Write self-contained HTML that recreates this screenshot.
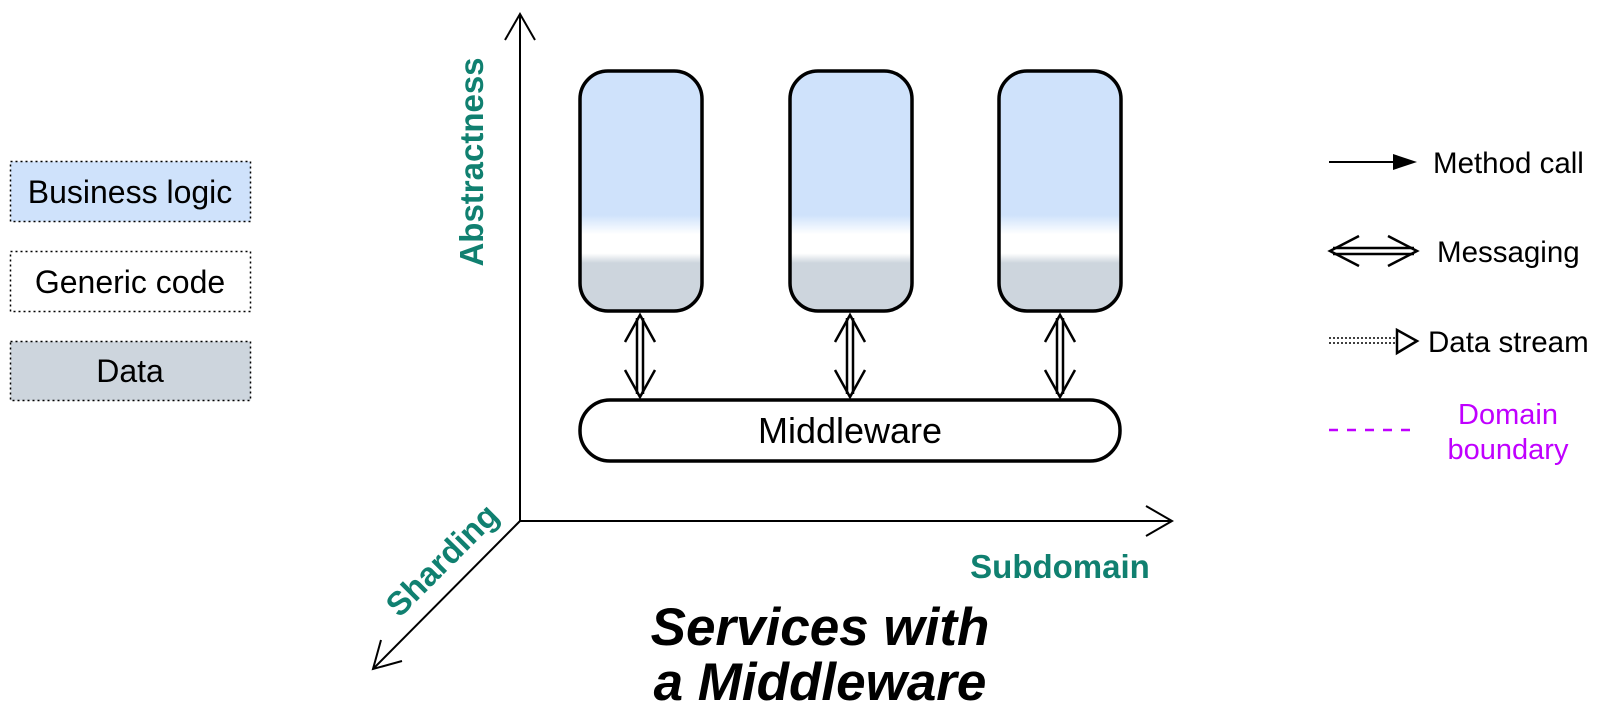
<!DOCTYPE html>
<html><head><meta charset="utf-8"><style>
html,body{margin:0;padding:0;background:#fff;}
svg{display:block;}
text{font-family:"Liberation Sans",Arial,sans-serif;}
</style></head><body>
<svg width="1600" height="713" viewBox="0 0 1600 713" xmlns="http://www.w3.org/2000/svg">
<defs>
<linearGradient id="g" x1="0" y1="0" x2="0" y2="1">
<stop offset="0" stop-color="#cfe2fb"/>
<stop offset="0.6" stop-color="#cfe2fb"/>
<stop offset="0.68" stop-color="#ffffff"/>
<stop offset="0.76" stop-color="#ffffff"/>
<stop offset="0.8" stop-color="#cdd5dd"/>
<stop offset="1" stop-color="#cdd5dd"/>
</linearGradient>
</defs>
<!-- left legend -->
<rect x="10.5" y="161.5" width="240" height="60" fill="#cfe2fb" stroke="#000" stroke-width="1.5" stroke-dasharray="2,3"/>
<text x="130" y="203" font-size="32" text-anchor="middle">Business logic</text>
<rect x="10.5" y="251.5" width="240" height="60" fill="#fff" stroke="#000" stroke-width="1.5" stroke-dasharray="2,3"/>
<text x="130" y="293" font-size="32" text-anchor="middle">Generic code</text>
<rect x="10.5" y="341.5" width="240" height="59" fill="#cdd5dd" stroke="#000" stroke-width="1.5" stroke-dasharray="2,3"/>
<text x="130" y="382" font-size="32" text-anchor="middle">Data</text>

<!-- axes -->
<g stroke="#000" stroke-width="2" fill="none">
<line x1="520" y1="14" x2="520" y2="521"/>
<polyline points="505,40 520,14 535,40"/>
<line x1="520" y1="521" x2="1172" y2="521"/>
<polyline points="1146,506 1172,521 1146,536"/>
<line x1="520" y1="521" x2="373" y2="669"/>
<polyline points="381,640 373,669 402,661"/>
</g>
<text transform="translate(483,162) rotate(-90)" font-size="33" font-weight="bold" fill="#108070" text-anchor="middle">Abstractness</text>
<text x="1060" y="578" font-size="33" font-weight="bold" fill="#108070" text-anchor="middle">Subdomain</text>
<text transform="translate(450,568) rotate(-45)" font-size="33" font-weight="bold" fill="#108070" text-anchor="middle">Sharding</text>

<!-- service boxes -->
<g stroke="#000" stroke-width="3.5" fill="url(#g)">
<rect x="580" y="71" width="122" height="240" rx="28"/>
<rect x="790" y="71" width="122" height="240" rx="28"/>
<rect x="999" y="71" width="122" height="240" rx="28"/>
</g>
<rect x="580" y="400" width="540" height="61" rx="30" fill="#fff" stroke="#000" stroke-width="3.5"/>
<text x="850" y="443" font-size="36" text-anchor="middle">Middleware</text>

<!-- messaging arrows -->
<g stroke="#000" stroke-width="2.5" fill="none">
<g id="da">
<line x1="637" y1="318" x2="637" y2="394"/>
<line x1="643" y1="318" x2="643" y2="394"/>
<polyline points="625,342 640,315 655,342"/>
<polyline points="625,370 640,397 655,370"/>
</g>
<use href="#da" transform="translate(210,0)"/>
<use href="#da" transform="translate(420,0)"/>
</g>

<!-- right legend -->
<line x1="1329" y1="162" x2="1395" y2="162" stroke="#000" stroke-width="2"/>
<polygon points="1393,154 1417,162 1393,170" fill="#000"/>
<text x="1433" y="173" font-size="29.5">Method call</text>

<g stroke="#000" stroke-width="2.5" fill="none">
<line x1="1333" y1="248" x2="1414" y2="248"/>
<line x1="1333" y1="254" x2="1414" y2="254"/>
<polyline points="1359,236 1330,251 1359,266"/>
<polyline points="1388,236 1417,251 1388,266"/>
</g>
<text x="1437" y="262" font-size="29.5">Messaging</text>

<g stroke="#000" stroke-width="1.5" stroke-dasharray="2,2">
<line x1="1329" y1="338" x2="1397" y2="338"/>
<line x1="1329" y1="343" x2="1397" y2="343"/>
</g>
<polygon points="1397,330 1417,341 1397,353" fill="#fff" stroke="#000" stroke-width="2.5"/>
<text x="1428" y="352" font-size="29.5">Data stream</text>

<line x1="1329" y1="430" x2="1419" y2="430" stroke="#c000ff" stroke-width="2.5" stroke-dasharray="9,9"/>
<text x="1508" y="424" font-size="29" fill="#c000ff" text-anchor="middle">Domain</text>
<text x="1508" y="459" font-size="29" fill="#c000ff" text-anchor="middle">boundary</text>

<!-- title -->
<text x="820" y="645" font-size="53" font-weight="bold" font-style="italic" text-anchor="middle">Services with</text>
<text x="820" y="700" font-size="53" font-weight="bold" font-style="italic" text-anchor="middle">a Middleware</text>
</svg>
</body></html>
